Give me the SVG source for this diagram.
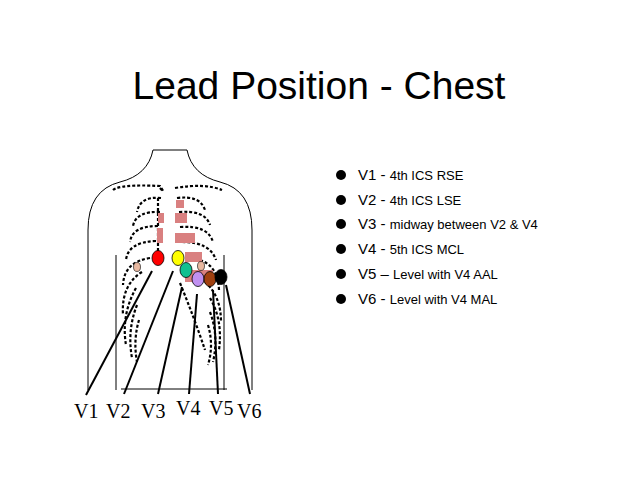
<svg xmlns="http://www.w3.org/2000/svg" width="638" height="478" viewBox="0 0 638 478">
<style>
.o{fill:none;stroke:#000;stroke-width:1}
.r{fill:none;stroke:#000;stroke-width:2.2;stroke-dasharray:3 2}
.l{stroke:#000;stroke-width:2}
.h{fill:#d98080}
.e{stroke:#000;stroke-width:0.8}
.t{font-family:"Liberation Sans",Arial,sans-serif;fill:#000}
.v{font-family:"Liberation Serif","Times New Roman",serif;font-size:20px;fill:#000}
</style>
<rect width="638" height="478" fill="#fff"/>
<text class="t" x="319" y="99" font-size="39" text-anchor="middle">Lead Position - Chest</text>
<g id="torso">
<path class="o" d="M88,390 L88,230 Q88,190 120,182 Q148,175 153,150 L187,150 Q192,175 220,182 Q252,190 252,230 L252,390"/>
<path class="o" d="M116,255 L116,390 M224,255 L224,390 M121,389 L227,389"/>
</g>
<g id="ribs">
<path class="r" d="M113,190 Q120,184 160,186 Q166,195 160,188 M175,188 Q205,183 222,190"/>
<path class="r" d="M161,198 Q140,196 137,212 M177,198 Q200,195 205,210"/>
<path class="r" d="M160,212 Q136,211 133,226 M179,212 Q205,210 210,225"/>
<path class="r" d="M158,226 Q132,226 130,242 M180,227 Q208,225 213,242"/>
<path class="r" d="M156,241 Q128,242 126,260 M182,242 Q210,242 216,260"/>
<path class="r" d="M150,258 Q124,262 123,285 M200,260 Q218,266 219,290"/>
<path class="r" d="M142,272 Q121,285 123,315 M205,282 Q221,296 221,322"/>
<path class="r" d="M136,288 Q121,315 126,345 M210,298 Q223,320 219,350"/>
<path class="r" d="M137,305 Q127,330 132,358 M210,312 Q219,336 213,362"/>
<path class="r" d="M139,320 Q133,340 137,362 M208,325 Q214,345 208,365"/>
<path class="r" d="M158,198 L158,255 M180,283 Q195,320 205,350"/>
</g>
<g id="heart">
<rect class="h" x="158" y="213" width="6" height="10"/>
<rect class="h" x="157" y="228" width="6" height="15"/>
<rect class="h" x="176" y="200" width="8" height="8"/>
<rect class="h" x="175" y="213" width="12" height="10"/>
<rect class="h" x="175" y="233" width="20" height="10"/>
<rect class="h" x="185" y="252" width="17" height="10"/>
<rect class="h" x="185" y="270" width="28" height="12"/>
</g>
<g id="nipples">
<ellipse cx="137" cy="267" rx="3.5" ry="4.5" fill="#e8b8a0" stroke="#000" stroke-width="0.6"/>
<ellipse cx="201" cy="266" rx="3.5" ry="4.5" fill="#e8b8a0" stroke="#000" stroke-width="0.6"/>
</g>
<g id="connectors">
<line class="l" x1="152" y1="271" x2="86" y2="395"/>
<line class="l" x1="173" y1="271" x2="124" y2="394"/>
<line class="l" x1="182" y1="287" x2="158" y2="394"/>
<line class="l" x1="197" y1="294" x2="189" y2="394"/>
<line class="l" x1="213" y1="290" x2="218" y2="394"/>
<line class="l" x1="226" y1="285" x2="250" y2="394"/>
</g>
<g id="electrodes">
<ellipse class="e" cx="158" cy="258" rx="6" ry="7.5" fill="#f00"/>
<ellipse class="e" cx="178" cy="258" rx="6" ry="7.5" fill="#ff0"/>
<ellipse class="e" cx="186" cy="270" rx="6" ry="7.5" fill="#10c090"/>
<ellipse class="e" cx="198" cy="279" rx="6" ry="7.5" fill="#c090f0"/>
<ellipse class="e" cx="210" cy="279" rx="6" ry="7.5" fill="#a04010"/>
<ellipse class="e" cx="221" cy="277" rx="6" ry="7.5" fill="#000"/>
</g>
<g id="labels">
<text class="v" x="74" y="418">V1</text>
<text class="v" x="106" y="418">V2</text>
<text class="v" x="141" y="418">V3</text>
<text class="v" x="176" y="415">V4</text>
<text class="v" x="209" y="415">V5</text>
<text class="v" x="237" y="418">V6</text>
</g>
<g id="list">
<g fill="#000"><circle cx="341" cy="175" r="5"/><circle cx="341" cy="200" r="5"/><circle cx="341" cy="224" r="5"/><circle cx="341" cy="249" r="5"/><circle cx="341" cy="274" r="5"/><circle cx="341" cy="299" r="5"/></g>
<text class="t" x="358" y="180" font-size="15">V1 - <tspan font-size="13">4th ICS RSE</tspan></text>
<text class="t" x="358" y="205" font-size="15">V2 - <tspan font-size="13">4th ICS LSE</tspan></text>
<text class="t" x="358" y="229" font-size="15">V3 - <tspan font-size="13">midway between V2 &amp; V4</tspan></text>
<text class="t" x="358" y="254" font-size="15">V4 - <tspan font-size="13">5th ICS MCL</tspan></text>
<text class="t" x="358" y="279" font-size="15">V5 – <tspan font-size="13">Level with V4 AAL</tspan></text>
<text class="t" x="358" y="304" font-size="15">V6 - <tspan font-size="13">Level with V4 MAL</tspan></text>
</g>
</svg>
